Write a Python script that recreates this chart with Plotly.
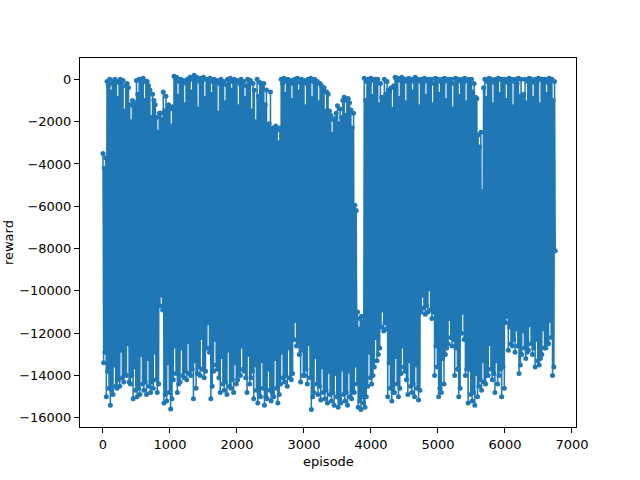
import plotly.graph_objects as go

# rewards, one value every 10 episodes (0 .. 6750)
episode_step = 10

reward = [
    -3500, -13400, -4200, -12900, -3700,
    -15000, -100, -13800, -300, -14600,
    0, -15400, -600, -14700, -200,
    -14900, -50, -13500, 0, -14500,
    -100, -14600, -900, -14200, -150,
    -14500, 0, -12800, -100, -14100,
    -50, -14300, -1500, -13900, -300,
    -14000, -200, -12500, -400, -14300,
    -1200, -14400, -2000, -14000, -1000,
    -15100, -1300, -13600, -1100, -14700,
    -50, -15000, -700, -14600, 0,
    -14900, 0, -13000, -200, -14400,
    50, -14700, -1000, -14300, -100,
    -14900, -100, -13200, -300, -14500,
    -500, -14800, -1800, -14300, -700,
    -14600, -1000, -12900, -1200, -14200,
    -1800, -14800, -2500, -14400, -1600,
    -10700, -1600, -10200, -1900, -10900,
    -600, -15300, -1500, -14900, -800,
    -15200, -1400, -13400, -1200, -14800,
    -1400, -15580, -2200, -15100, -1300,
    -14200, 150, -12600, 100, -13900,
    100, -14800, -800, -14400, -100,
    -14300, 0, -12700, -150, -14000,
    -50, -14100, -1200, -13800, -200,
    -14200, 0, -12400, -100, -13900,
    100, -14000, -600, -13700, 0,
    -15100, 200, -13300, 50, -14600,
    100, -13900, -1400, -13600, -100,
    -14000, 50, -12200, -50, -13700,
    100, -14100, -900, -13800, 0,
    -12700, 0, -11500, -200, -12900,
    50, -15100, -700, -14500, -100,
    -13800, 0, -12300, -150, -13500,
    -50, -13700, -1600, -14100, -200,
    -14800, 0, -13100, -100, -14400,
    -100, -14700, -1100, -14300, -250,
    -14900, 0, -12800, -50, -14500,
    50, -14600, -500, -14200, -100,
    -14800, 0, -13400, -150, -14400,
    -50, -14200, -1300, -13900, -200,
    -14000, 0, -12600, -100, -13700,
    -100, -13800, -900, -14100, -300,
    -14800, 0, -13000, -100, -14400,
    -50, -14100, -1500, -13800, -200,
    -15100, -500, -13500, -2000, -14700,
    0, -15300, -800, -14900, -150,
    -15000, -200, -13300, -400, -14600,
    -200, -15400, -1200, -15000, -500,
    -15100, -2300, -13700, -2100, -14700,
    -600, -15200, -2400, -14800, -2300,
    -15000, -2400, -13200, -2200, -14600,
    -2400, -15300, -3000, -14900, -2300,
    -14400, 0, -12900, -200, -14100,
    50, -14300, -700, -14000, -100,
    -14500, 0, -12700, -50, -14100,
    -50, -14200, -1000, -13900, -200,
    -12300, 0, -11400, -100, -12600,
    50, -12400, -600, -13000, -150,
    -14300, 0, -12800, -100, -14000,
    -50, -14000, -1300, -13700, -200,
    -14400, 0, -12500, -50, -14100,
    50, -15600, -900, -15000, -100,
    -14800, 0, -13100, -150, -14400,
    -100, -14900, -1100, -14500, -200,
    -15150, -300, -13600, -500, -14800,
    -400, -15100, -1500, -14700, -600,
    -15300, -700, -13800, -1500, -14900,
    -1700, -15200, -2600, -14800, -1900,
    -15400, -1850, -13900, -1600, -15000,
    -1250, -15500, -2100, -15100, -1400,
    -15300, -1800, -13700, -1000, -14900,
    -850, -15200, -1700, -14800, -1000,
    -15400, -900, -13800, -1100, -15000,
    -1450, -15100, -2300, -14700, -1600,
    -14800, -5950, -13500, -6200, -14400,
    -11000, -15500, -11800, -15200, -11300,
    -15600, -11200, -15000, -11500, -15300,
    50, -15500, -1000, -15000, -100,
    -14500, 0, -12900, -150, -14100,
    50, -14400, -800, -14000, -50,
    -13600, 0, -12200, -100, -13300,
    0, -13000, -1200, -12700, -200,
    -11700, -850, -10900, -900, -11900,
    0, -11500, -700, -11800, -100,
    -15000, -500, -13400, -600, -14600,
    -400, -15200, -1400, -14800, -300,
    -14800, 100, -13100, 0, -14400,
    50, -15000, -900, -14600, -50,
    -13900, 100, -12600, 0, -13600,
    0, -13800, -1100, -14200, -100,
    -14900, 50, -13300, -50, -14500,
    0, -14800, -600, -14400, -100,
    -15000, 100, -13500, 0, -14600,
    0, -15150, -1300, -14700, -100,
    -11000, 0, -10200, -150, -10800,
    50, -11100, -800, -10700, -50,
    -11000, 0, -9900, -100, -10900,
    0, -11300, -1200, -11000, -200,
    -14000, 50, -12600, -50, -13600,
    0, -15000, -700, -14600, -100,
    -14800, 0, -13200, -150, -14400,
    50, -13000, -1000, -12700, -50,
    -12500, 0, -11300, -100, -12200,
    0, -12600, -1400, -12300, -200,
    -14000, 50, -12700, 0, -13700,
    0, -15000, -800, -14600, -100,
    -12000, 0, -11000, -150, -12300,
    50, -14000, -1100, -13700, -50,
    -15300, 0, -13700, -100, -14900,
    0, -15200, -600, -14800, -200,
    -15400, -850, -13900, -900, -15000,
    -2640, -14500, -3200, -14200, -2500,
    -14700, -5300, -13300, -400, -14300,
    0, -14400, -900, -14000, -100,
    -14000, 50, -12500, -50, -13700,
    0, -14200, -1200, -13900, -150,
    -14800, 0, -13300, -100, -14400,
    50, -14000, -700, -13700, 0,
    -15000, 0, -13600, -100, -14600,
    0, -11500, -1000, -11200, -150,
    -12800, 50, -11700, -50, -12500,
    0, -12600, -1300, -12300, -100,
    -12900, 0, -11800, -200, -12600,
    50, -13900, -800, -13500, 0,
    -13000, -850, -11900, -700, -12700,
    0, -13200, -1100, -12900, -100,
    -12800, 50, -11600, -50, -12500,
    0, -13000, -900, -12700, -150,
    -13600, 0, -12300, -100, -13300,
    50, -13500, -1200, -13200, 0,
    -13000, 0, -11800, -100, -12700,
    0, -12700, -700, -12400, -150,
    -12500, 50, -11400, -50, -12200,
    0, -14000, -1000, -13600, -100,
    -8100,
]
episode = [i * episode_step for i in range(len(reward))]

x_ticks = [0, 1000, 2000, 3000, 4000, 5000, 6000, 7000]
y_ticks = [-16000, -14000, -12000, -10000, -8000, -6000, -4000, -2000, 0]
y_tick_text = [("\u2212" + str(-v)) if v < 0 else str(v) for v in y_ticks]

blue = "#1f77b4"

fig = go.Figure()
fig.add_trace(go.Scatter(
    x=episode, y=reward, mode="lines+markers",
    line=dict(color=blue, width=1.5),
    marker=dict(color=blue, size=5, line=dict(width=0)),
    showlegend=False,
))

axis_common = dict(
    showgrid=False, zeroline=False, showline=True, linecolor="black",
    linewidth=1, mirror=True, ticks="outside", ticklen=5, tickwidth=1,
    tickcolor="black", automargin=False,
    tickfont=dict(family="DejaVu Sans", size=13, color="black"),
)

fig.update_layout(
    width=640, height=480,
    margin=dict(l=80, r=64, t=58, b=53),
    paper_bgcolor="white", plot_bgcolor="white",
    font=dict(family="DejaVu Sans", size=13, color="black"),
    xaxis=dict(range=[-343, 7060], tickvals=x_ticks, **axis_common),
    yaxis=dict(range=[-16432, 1010], tickvals=y_ticks, ticktext=y_tick_text, **axis_common),
    annotations=[
        dict(text="episode", xref="paper", yref="paper", x=0.5, y=-0.094,
             xanchor="center", yanchor="middle", showarrow=False,
             font=dict(family="DejaVu Sans", size=13, color="black")),
        dict(text="reward", xref="paper", yref="paper", x=-0.144, y=0.5,
             xanchor="center", yanchor="middle", showarrow=False, textangle=-90,
             font=dict(family="DejaVu Sans", size=13, color="black")),
    ],
)

fig.write_html("out.html", config={"displayModeBar": False},
               post_script="document.body.style.margin='0';")
